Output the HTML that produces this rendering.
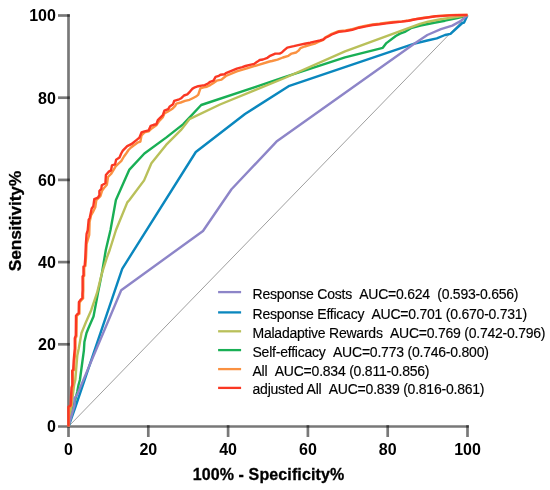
<!DOCTYPE html>
<html><head><meta charset="utf-8"><title>ROC curves</title>
<style>html,body{margin:0;padding:0;background:#fff;}svg{display:block;}</style></head>
<body><svg width="550" height="490" viewBox="0 0 550 490">
<rect width="550" height="490" fill="#fff"/>
<g stroke="#000" stroke-opacity="0.53" stroke-width="2.7" fill="none">
<line x1="68.5" y1="14.15" x2="68.5" y2="437"/>
<line x1="58" y1="426.5" x2="468.85" y2="426.5"/>
<line x1="58" y1="344.30" x2="69.85" y2="344.30"/>
<line x1="148.30" y1="425.15" x2="148.30" y2="437"/>
<line x1="58" y1="262.10" x2="69.85" y2="262.10"/>
<line x1="228.10" y1="425.15" x2="228.10" y2="437"/>
<line x1="58" y1="179.90" x2="69.85" y2="179.90"/>
<line x1="307.90" y1="425.15" x2="307.90" y2="437"/>
<line x1="58" y1="97.70" x2="69.85" y2="97.70"/>
<line x1="387.70" y1="425.15" x2="387.70" y2="437"/>
<line x1="58" y1="15.50" x2="69.85" y2="15.50"/>
<line x1="467.50" y1="425.15" x2="467.50" y2="437"/>
</g>
<line x1="68.5" y1="426.5" x2="467.5" y2="15.5" stroke="#8c8c8c" stroke-width="0.85"/>
<polyline points="68.5,426.5 75.4,407.0 122.2,268.8 195.8,152.0 245.0,114.0 289.4,85.8 413.6,43.9 427.3,40.5 436.8,38.4 445.0,35.0 450.5,33.9 462.3,23.0 464.1,22.5 467.5,15.2" fill="none" stroke="#0a87be" stroke-width="2.4" stroke-linejoin="round"/>
<polyline points="68.5,426.5 72.3,411.3 74.5,402.5 77.2,392.0 78.5,385.0 79.9,380.0 82.4,361.5 83.9,350.3 84.4,342.1 86.5,333.0 88.5,328.0 93.5,316.5 98.0,292.7 101.9,273.3 105.8,250.0 110.5,230.0 115.9,200.0 129.4,169.6 144.4,153.5 166.1,137.6 183.3,124.1 201.2,105.0 255.0,87.1 283.7,77.3 345.0,57.3 382.8,47.8 386.4,43.1 395.8,36.0 400.0,33.6 405.5,31.6 410.9,28.2 420.5,25.5 434.1,22.7 445.0,20.7 457.3,18.0 467.5,15.5" fill="none" stroke="#19af55" stroke-width="2.4" stroke-linejoin="round"/>
<polyline points="68.5,426.5 70.6,411.3 72.8,395.5 74.1,385.0 75.3,380.0 77.3,355.4 78.8,348.3 81.5,333.0 86.0,322.0 91.2,310.2 97.1,292.7 101.9,273.3 106.8,257.8 109.7,250.0 116.0,230.0 127.3,202.4 129.4,200.0 144.1,180.4 151.4,163.3 166.1,144.9 180.8,130.2 189.4,119.2 220.0,104.5 255.0,90.2 284.7,78.0 345.0,51.4 420.0,23.8 428.0,21.7 442.0,19.0 455.5,17.1 467.5,15.3" fill="none" stroke="#b9c05a" stroke-width="2.4" stroke-linejoin="round"/>
<polyline points="68.5,426.5 74.5,405.2 74.5,398.2 77.2,394.6 121.2,290.2 203.0,231.0 231.5,189.2 276.5,141.6 413.5,44.3 427.3,35.0 440.9,29.2 452.3,25.6 460.5,21.1 467.5,15.2" fill="none" stroke="#8d85c8" stroke-width="2.4" stroke-linejoin="round"/>
<polyline points="68.5,426.5 69.1,407.5 71.3,405.7 72.2,388.1 73.0,385.5 73.0,380.5 72.9,371.2 73.9,370.2 74.4,361.0 75.5,348.8 75.5,338.6 76.5,336.0 76.7,316.2 78.2,314.4 79.4,313.8 79.6,302.7 81.2,300.3 83.1,298.5 83.1,294.2 83.3,290.5 83.3,277.0 84.2,275.8 84.2,267.2 85.4,266.0 86.0,258.0 86.6,244.0 89.2,234.9 89.6,222.0 91.0,215.5 93.0,212.0 95.3,207.3 96.3,200.2 100.4,196.1 102.2,190.5 104.0,188.0 106.9,184.7 108.0,177.0 111.0,174.0 113.6,169.9 115.6,166.3 118.7,163.3 121.2,161.2 124.0,156.5 126.5,153.0 128.5,150.0 131.0,147.5 133.3,145.7 137.4,142.7 140.4,141.6 141.5,135.5 144.5,132.4 148.6,131.4 151.7,128.4 156.3,125.3 158.8,121.5 162.9,117.1 164.4,113.5 167.6,111.8 172.0,109.1 175.3,105.8 176.4,103.6 180.7,102.5 185.1,100.9 189.5,99.8 192.7,98.2 196.0,96.5 198.2,94.9 199.3,91.6 200.4,88.4 203.6,87.3 206.9,86.7 210.2,85.1 213.5,82.9 216.7,80.7 221.5,79.6 225.9,76.0 236.8,71.4 247.7,68.1 258.6,64.8 269.5,61.5 272.0,61.0 277.5,59.6 282.9,57.5 288.4,55.8 291.6,53.6 296.0,52.5 298.2,50.9 300.4,48.2 304.7,46.5 310.2,44.9 315.6,43.3 320.0,41.1 323.3,39.8 325.5,37.2 328.7,35.6 331.8,33.9 338.6,31.2 345.5,30.5 352.3,29.2 359.1,27.1 365.9,25.8 372.7,24.4 379.5,23.7 386.4,22.8 393.2,21.9 401.8,21.4 408.6,20.5 415.5,19.1 422.3,18.0 429.1,17.1 435.9,16.1 442.7,15.7 449.5,15.2 456.4,14.9 467.5,15.0" fill="none" stroke="#fa9141" stroke-width="2.4" stroke-linejoin="round"/>
<polyline points="68.5,426.5 68.4,407.0 70.6,405.2 71.5,387.6 72.3,385.0 72.3,380.0 72.2,370.7 73.2,369.7 73.7,360.5 74.8,348.3 74.8,338.1 75.8,335.5 76.0,315.7 77.5,313.9 78.7,313.3 78.9,302.2 80.5,299.8 82.4,298.0 82.4,293.7 82.6,290.0 82.6,276.5 83.5,275.3 83.5,266.7 84.7,265.5 85.3,257.5 85.9,243.5 86.6,233.9 87.7,230.3 88.7,219.6 89.7,218.1 91.7,208.4 93.3,206.3 94.3,199.2 97.9,197.7 99.4,195.1 99.4,191.0 101.3,188.8 101.8,185.2 105.4,183.2 105.9,175.0 108.5,171.9 111.0,170.4 112.0,165.3 115.1,164.3 116.1,159.7 119.5,157.5 121.2,153.5 122.8,150.7 127.2,146.2 131.3,144.2 136.4,140.1 139.4,137.6 141.5,132.4 144.5,131.4 148.6,130.4 150.7,125.8 153.7,124.8 156.3,124.3 157.8,120.2 159.8,118.2 162.9,115.1 163.6,113.0 164.4,110.7 168.2,109.1 169.8,106.4 173.1,104.2 174.2,100.9 179.1,99.3 181.3,98.2 184.0,95.5 187.3,94.4 190.0,91.6 192.2,88.9 194.9,87.3 198.2,86.2 201.5,85.6 204.7,85.1 208.0,83.5 210.2,81.8 213.5,80.7 215.6,76.9 218.9,75.8 220.5,74.7 224.8,74.2 225.9,73.1 231.4,70.9 236.8,68.7 242.3,67.1 245.5,66.0 249.9,64.9 254.3,63.8 257.5,61.6 259.7,60.0 263.0,59.5 267.4,57.8 269.5,56.2 275.3,53.6 279.6,53.6 281.8,52.5 284.0,50.4 287.3,47.6 290.5,46.9 293.8,46.2 299.3,44.9 304.7,43.8 310.2,42.7 315.6,41.4 320.0,40.5 323.3,39.5 325.5,37.8 328.7,36.2 331.8,34.5 338.6,31.8 345.5,31.1 352.3,29.8 359.1,27.7 365.9,26.4 372.7,25.0 379.5,24.3 386.4,23.4 393.2,22.5 401.8,21.6 408.6,20.7 415.5,19.3 422.3,18.2 429.1,17.3 435.9,16.3 442.7,15.9 449.5,15.4 456.4,15.1 467.5,15.0" fill="none" stroke="#fa3723" stroke-width="2.4" stroke-linejoin="round"/>
<g font-family="'Liberation Sans', Arial, sans-serif" font-weight="bold" font-size="16" fill="#000">
<text x="55.9" y="432.30" text-anchor="end">0</text>
<text x="68.50" y="454.5" text-anchor="middle">0</text>
<text x="55.9" y="350.10" text-anchor="end">20</text>
<text x="148.30" y="454.5" text-anchor="middle">20</text>
<text x="55.9" y="267.90" text-anchor="end">40</text>
<text x="228.10" y="454.5" text-anchor="middle">40</text>
<text x="55.9" y="185.70" text-anchor="end">60</text>
<text x="307.90" y="454.5" text-anchor="middle">60</text>
<text x="55.9" y="103.50" text-anchor="end">80</text>
<text x="387.70" y="454.5" text-anchor="middle">80</text>
<text x="55.9" y="21.30" text-anchor="end">100</text>
<text x="467.50" y="454.5" text-anchor="middle">100</text>
<text x="268.4" y="480" stroke="#000" stroke-width="0.3" text-anchor="middle" textLength="151.5" lengthAdjust="spacing">100% - Specificity%</text>
<text stroke="#000" stroke-width="0.3" transform="translate(21.4,221.0) rotate(-90)" text-anchor="middle" font-size="17.4" textLength="100.4" lengthAdjust="spacing">Sensitivity%</text>
</g>
<g font-family="'Liberation Sans', Arial, sans-serif" font-size="14" fill="#000" stroke="#000" stroke-width="0.15">
<line x1="218.1" y1="292.1" x2="241.1" y2="292.1" stroke="#8d85c8" stroke-width="2.3"/>
<text x="252.5" y="298.6" textLength="266.0" lengthAdjust="spacing">Response Costs  AUC=0.624  (0.593-0.656)</text>
<line x1="218.1" y1="312.4" x2="241.1" y2="312.4" stroke="#0a87be" stroke-width="2.3"/>
<text x="252.5" y="318.9" textLength="274.6" lengthAdjust="spacing">Response Efficacy  AUC=0.701 (0.670-0.731)</text>
<line x1="218.1" y1="331.3" x2="241.1" y2="331.3" stroke="#b9c05a" stroke-width="2.3"/>
<text x="252.5" y="337.8" textLength="293.0" lengthAdjust="spacing">Maladaptive Rewards  AUC=0.769 (0.742-0.796)</text>
<line x1="218.1" y1="350.1" x2="241.1" y2="350.1" stroke="#19af55" stroke-width="2.3"/>
<text x="252.5" y="356.6" textLength="236.4" lengthAdjust="spacing">Self-efficacy  AUC=0.773 (0.746-0.800)</text>
<line x1="218.1" y1="369.1" x2="241.1" y2="369.1" stroke="#fa9141" stroke-width="2.3"/>
<text x="252.5" y="375.6" textLength="177.0" lengthAdjust="spacing">All  AUC=0.834 (0.811-0.856)</text>
<line x1="218.1" y1="387.9" x2="241.1" y2="387.9" stroke="#fa3723" stroke-width="2.3"/>
<text x="252.5" y="394.4" textLength="232.0" lengthAdjust="spacing">adjusted All  AUC=0.839 (0.816-0.861)</text>
</g>
</svg></body></html>
